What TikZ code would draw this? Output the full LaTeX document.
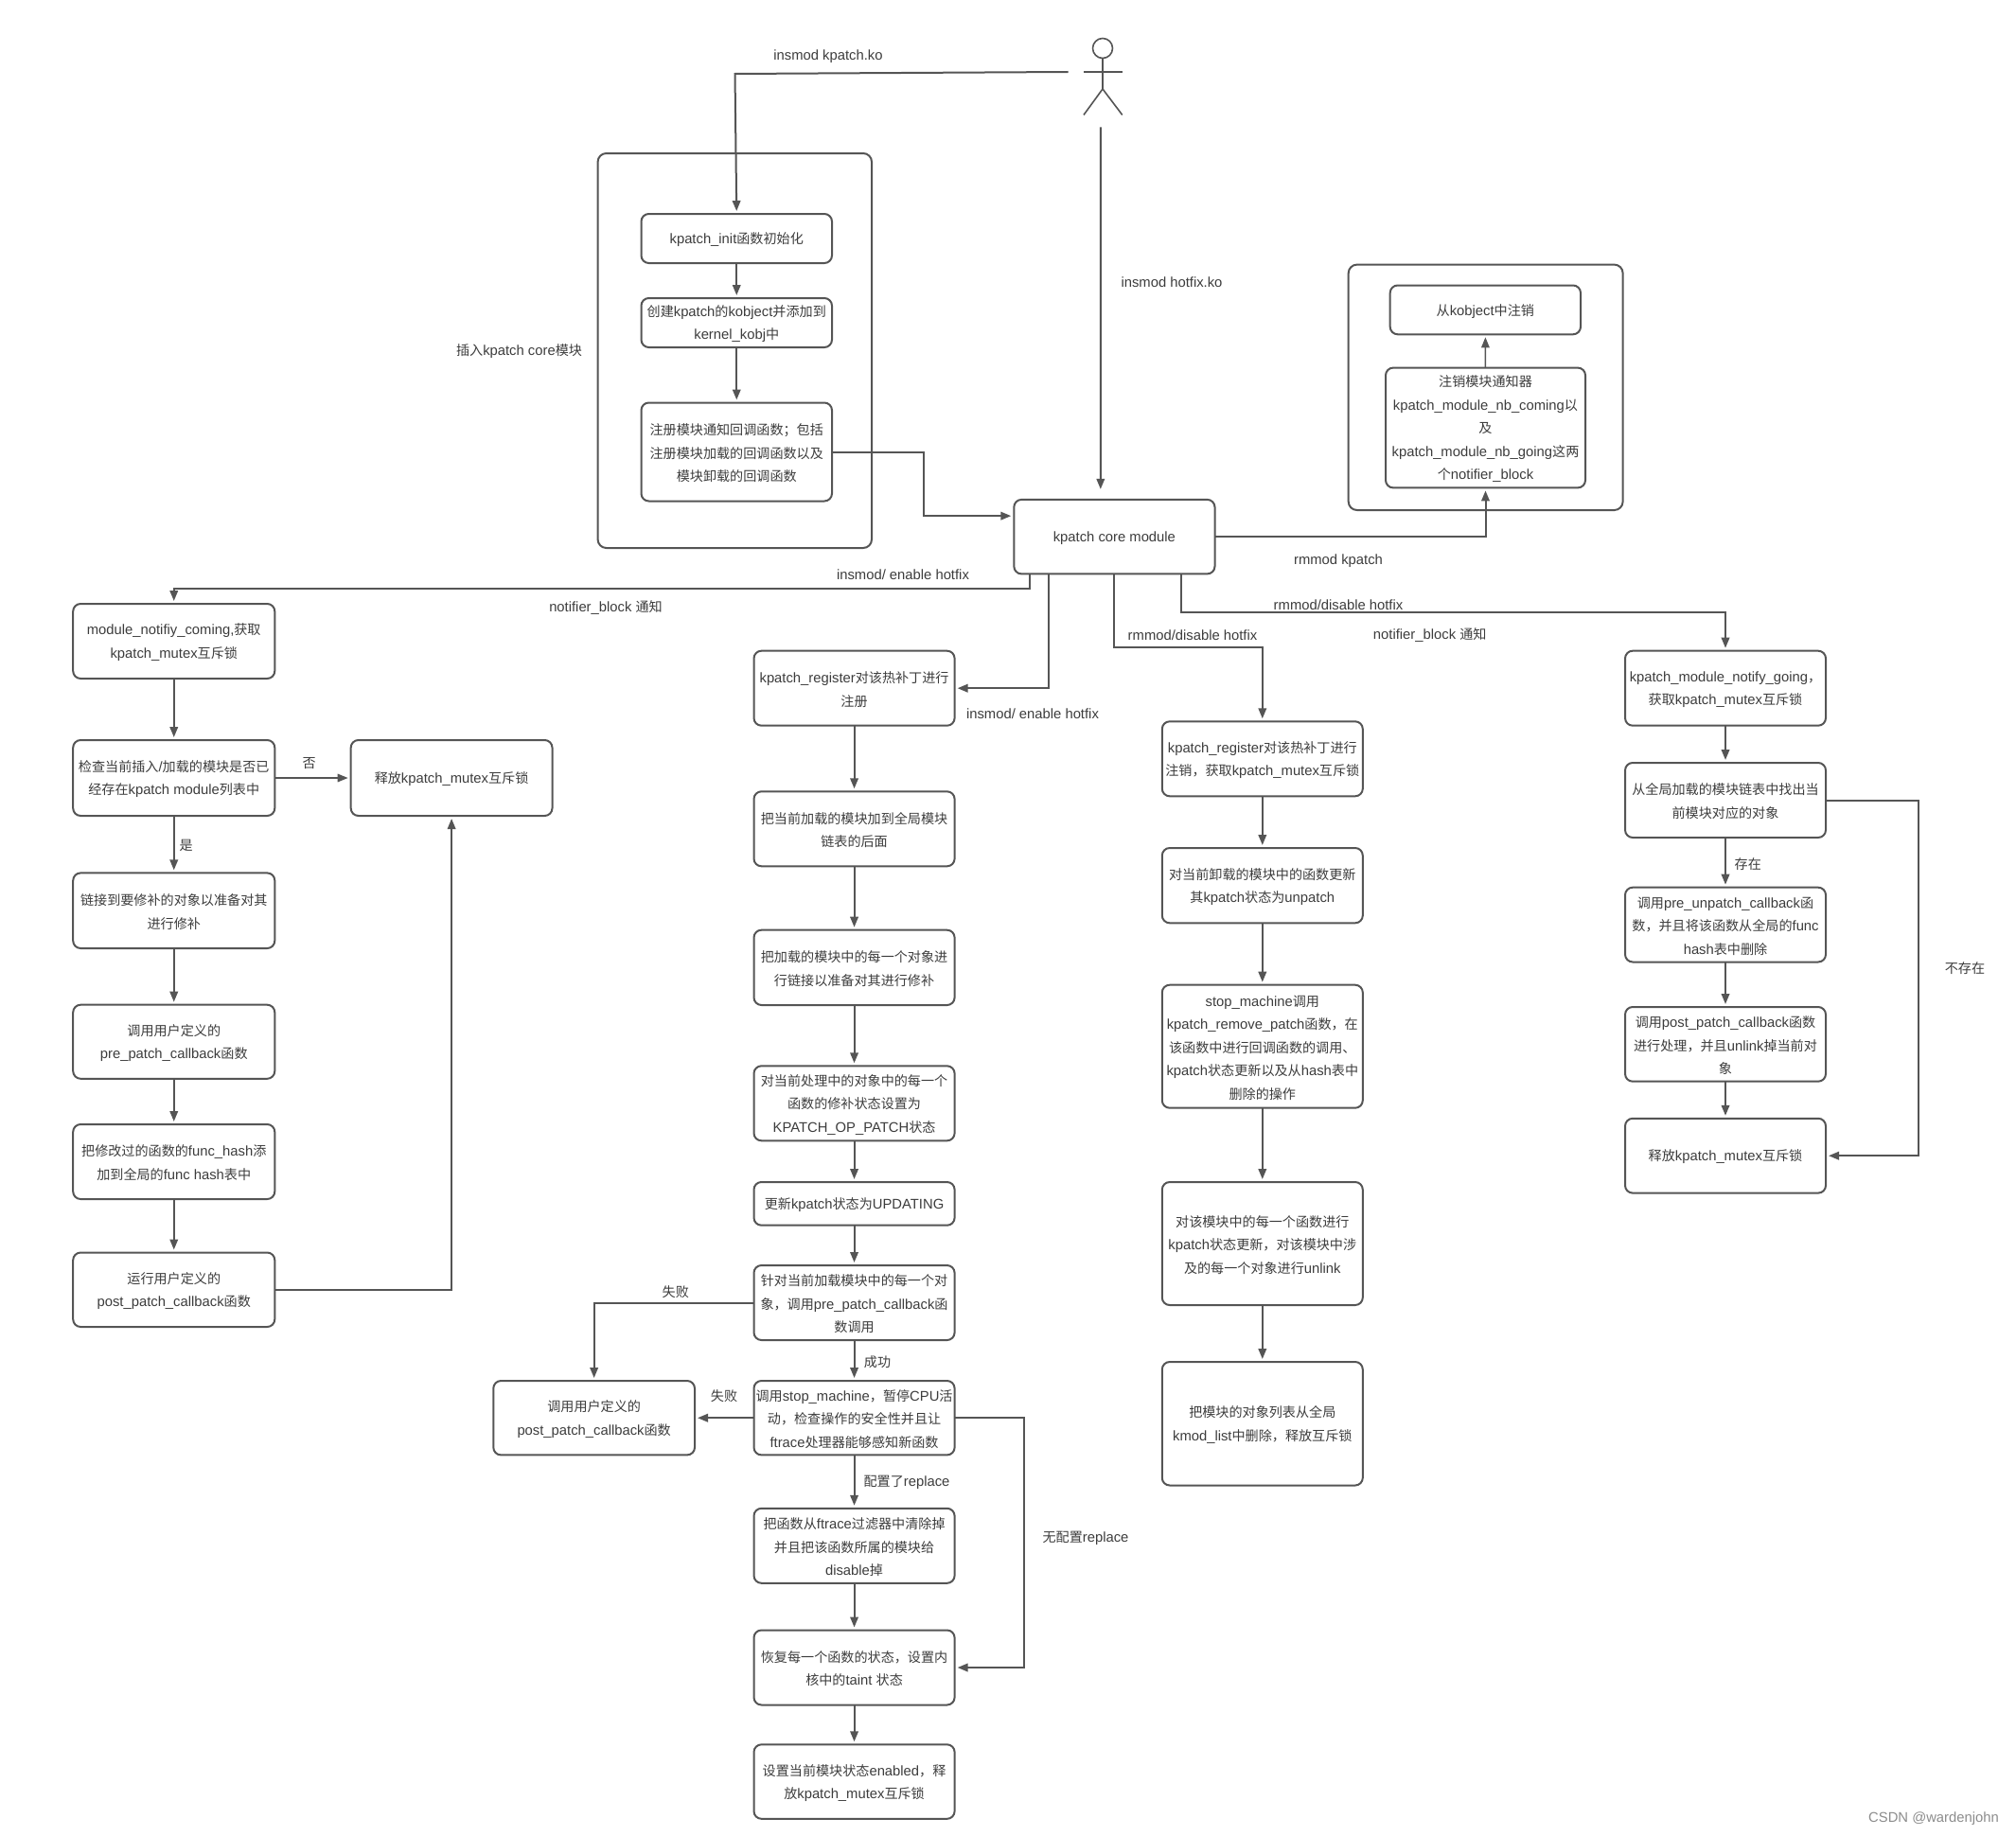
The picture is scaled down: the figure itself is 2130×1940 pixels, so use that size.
\documentclass[tikz,border=0pt]{standalone}
\usetikzlibrary{arrows.meta}
\font\latf="Liberation Sans" at 14.8pt
\font\cjkf="Noto Sans CJK SC" at 14.1pt
\font\wmf="Liberation Sans" at 15pt
\count255="4E00
\loop\ifnum\count255<"A000 \XeTeXcharclass\count255=1 \advance\count255 by 1 \repeat
\XeTeXcharclass"3001=1 \XeTeXcharclass"3002=1 \XeTeXcharclass"FF0C=1 \XeTeXcharclass"FF1B=1
\XeTeXinterchartokenstate=1
\XeTeXinterchartoks 0 1 = {\cjkf}
\XeTeXinterchartoks 1 0 = {\latf}
\XeTeXinterchartoks 4095 1 = {\cjkf}
\XeTeXinterchartoks 4095 0 = {\latf}
\catcode`\_=12
\definecolor{lc}{HTML}{555555}
\definecolor{tc}{HTML}{3C3C3C}
\def\tf{\latf\baselineskip=24.5pt\lineskiplimit=-10pt\relax}
\newcommand{\stk}[1]{\raisebox{-1.3pt}[\height][\depth]{\vbox{\let\\\cr\halign{\hfil##\hfil\crcr#1\crcr}}}}
\tikzset{
  box/.style={draw=lc,line width=2pt,rounded corners=8pt,inner sep=0pt,outer sep=0pt,text=tc,font=\tf},
  frame/.style={box,rounded corners=9pt},
  lbl/.style={inner sep=0pt,align=center,text=tc,font=\tf,yshift=-1.5pt},
  arr/.style={draw=lc,line width=2pt,-{Triangle[length=11pt,width=8.5pt]},shorten >=3pt},
  lin/.style={draw=lc,line width=1.6pt},
}
\newcommand{\bx}[7][box]{\node[#1,minimum width={(#5-#3)*1pt},minimum height={(#6-#4)*1pt}] (#2) at ({(#3+#5)/2},{(#4+#6)/2}) {\stk{#7}};}
\begin{document}
\begin{tikzpicture}[x=1pt,y=-1pt]
\useasboundingbox (0,0) rectangle (2130,1940);
% containers
\bx[frame]{cl}{631.6}{162}{921}{579}{}
\bx[frame]{cr}{1424.7}{279.6}{1714.6}{539}{}
% top-left group
\bx{init}{677.5}{226}{879}{278}{kpatch_init函数初始化}
\bx{kobj}{677.5}{315}{879}{367}{创建kpatch的kobject并添加到\\kernel_kobj中}
\bx{reg}{677.5}{425.5}{879}{529.5}{注册模块通知回调函数；包括\\注册模块加载的回调函数以及\\模块卸载的回调函数}
% core
\bx{core}{1071.3}{527.9}{1283.5}{606.4}{kpatch core module}
% top-right group
\bx{unk}{1468.7}{301.5}{1670}{353.3}{从kobject中注销}
\bx{unn}{1464}{388.6}{1675}{515.4}{注销模块通知器\\kpatch_module_nb_coming以\\及\\kpatch_module_nb_going这两\\个notifier_block}
% left column
\bx{la}{77.2}{638}{290.3}{717}{module_notifiy_coming,获取\\kpatch_mutex互斥锁}
\bx{lb}{77.2}{782}{290.3}{862}{检查当前插入/加载的模块是否已\\经存在kpatch module列表中}
\bx{lr}{370.7}{782}{583.5}{862}{释放kpatch_mutex互斥锁}
\bx{lc1}{77.2}{922.4}{290.3}{1002}{链接到要修补的对象以准备对其\\进行修补}
\bx{ld}{77.2}{1061.7}{290.3}{1139.8}{调用用户定义的\\pre_patch_callback函数}
\bx{le}{77.2}{1188}{290.3}{1267}{把修改过的函数的func_hash添\\加到全局的func hash表中}
\bx{lf}{77.2}{1323.5}{290.3}{1402}{运行用户定义的\\post_patch_callback函数}
% middle column
\bx{ma}{796.5}{687.7}{1008.6}{766.7}{kpatch_register对该热补丁进行\\注册}
\bx{mb}{796.5}{836.3}{1008.6}{915.3}{把当前加载的模块加到全局模块\\链表的后面}
\bx{mc}{796.5}{982.7}{1008.6}{1062}{把加载的模块中的每一个对象进\\行链接以准备对其进行修补}
\bx{md}{796.5}{1126.3}{1008.6}{1205.3}{对当前处理中的对象中的每一个\\函数的修补状态设置为\\KPATCH_OP_PATCH状态}
\bx{me}{796.5}{1249}{1008.6}{1294.7}{更新kpatch状态为UPDATING}
\bx{mf}{796.5}{1337}{1008.6}{1416}{针对当前加载模块中的每一个对\\象，调用pre_patch_callback函\\数调用}
\bx{mg}{796.5}{1459}{1008.6}{1537.4}{调用stop_machine，暂停CPU活\\动，检查操作的安全性并且让\\ftrace处理器能够感知新函数}
\bx{mh}{796.5}{1593.8}{1008.6}{1672.8}{把函数从ftrace过滤器中清除掉\\并且把该函数所属的模块给\\disable掉}
\bx{mi}{796.5}{1722.5}{1008.6}{1801.5}{恢复每一个函数的状态，设置内\\核中的taint 状态}
\bx{mj}{796.5}{1843.3}{1008.6}{1921.8}{设置当前模块状态enabled，释\\放kpatch_mutex互斥锁}
\bx{post}{521.3}{1459}{734}{1537.4}{调用用户定义的\\post_patch_callback函数}
% third column
\bx{ca}{1227.8}{762.3}{1439.8}{841.3}{kpatch_register对该热补丁进行\\注销，获取kpatch_mutex互斥锁}
\bx{cb}{1227.8}{896}{1439.8}{975.3}{对当前卸载的模块中的函数更新\\其kpatch状态为unpatch}
\bx{cc}{1227.8}{1040.7}{1439.8}{1170.7}{stop_machine调用\\kpatch_remove_patch函数，在\\该函数中进行回调函数的调用、\\kpatch状态更新以及从hash表中\\删除的操作}
\bx{cd}{1227.8}{1249}{1439.8}{1379}{对该模块中的每一个函数进行\\kpatch状态更新，对该模块中涉\\及的每一个对象进行unlink}
\bx{ce}{1227.8}{1439}{1439.8}{1569.5}{把模块的对象列表从全局\\kmod_list中删除，释放互斥锁}
% fourth column
\bx{da}{1717}{687.7}{1929}{766.7}{kpatch_module_notify_going，\\获取kpatch_mutex互斥锁}
\bx{db}{1717}{806}{1929}{885}{从全局加载的模块链表中找出当\\前模块对应的对象}
\bx{dc}{1717}{937.7}{1929}{1016.5}{调用pre_unpatch_callback函\\数，并且将该函数从全局的func\\hash表中删除}
\bx{dd}{1717}{1064}{1929}{1142.7}{调用post_patch_callback函数\\进行处理，并且unlink掉当前对\\象}
\bx{de}{1717}{1181.8}{1929}{1260.6}{释放kpatch_mutex互斥锁}
% actor
\node[draw=lc,line width=1.6pt,circle,minimum size=21pt,inner sep=0pt,outer sep=0pt] (head) at (1165,51) {};
\coordinate (hip) at (1165,94);
\coordinate (armL) at (1145,76);
\coordinate (armR) at (1185.7,76);
\coordinate (legL) at (1145,121.4);
\coordinate (legR) at (1185.7,121.4);
\draw[lin] (head.south) -- (hip);
\draw[lin] (armL) -- (armR);
\draw[lin] (legL) -- (hip) -- (legR);
% helper coordinates
\coordinate (actL) at (1128.6,76);
\coordinate (bendA) at (776.5,78);
\coordinate (actB) at (1162.8,134.4);
\coordinate (bendR) at (975.5,500);
\coordinate (ya) at (0,622.4);
\coordinate (yc) at (0,684);
\coordinate (yd) at (0,647);
\coordinate (xm) at (1081.7,0);
\coordinate (xd) at (2026.6,0);
\coordinate (xl) at (627.5,0);
\coordinate (xp) at (477,0);
% connectors
\draw[arr] (actL) -- (bendA) -- (init.north);
\draw[arr,shorten >=11pt] (actB) -- ([xshift=-14.6pt]core.north);
\draw[arr] (init) -- (kobj);
\draw[arr] (kobj) -- (reg);
\draw[arr] (reg.east) -| (bendR) |- ([yshift=22pt]core.west);
\draw[arr] (core.east) -| (unn.south);
\draw[arr,line width=1.6pt] (unn) -- (unk);
\draw[arr] ([xshift=-89.4pt]core.south) |- (la.north |- ya) -- (la.north);
\draw[arr] ([xshift=-69.6pt]core.south) |- (ma.east);
\draw[arr] (core.south) |- (ca.north |- yc) -- (ca.north);
\draw[arr] ([xshift=70.9pt]core.south) |- (da.north |- yd) -- (da.north);
% left
\draw[arr] (la) -- (lb);
\draw[arr,line width=1.6pt] (lb) -- (lr);
\draw[arr] (lb) -- (lc1);
\draw[arr] (lc1) -- (ld);
\draw[arr] (ld) -- (le);
\draw[arr] (le) -- (lf);
\draw[arr] (lf.east) -| (lr.south);
% middle
\draw[arr] (ma) -- (mb);
\draw[arr] (mb) -- (mc);
\draw[arr] (mc) -- (md);
\draw[arr] (md) -- (me);
\draw[arr] (me) -- (mf);
\draw[arr] (mf) -- (mg);
\draw[arr] (mg) -- (mh);
\draw[arr] (mh) -- (mi);
\draw[arr] (mi) -- (mj);
\draw[arr] (mf.west) -| (post.north);
\draw[arr] (mg.west) -- (post.east);
\draw[arr] (mg.east) -| (mg.east -| xm) |- (mi.east);
% third
\draw[arr] (ca) -- (cb);
\draw[arr] (cb) -- (cc);
\draw[arr] (cc) -- (cd);
\draw[arr] (cd) -- (ce);
% fourth
\draw[arr] (da) -- (db);
\draw[arr] (db) -- (dc);
\draw[arr] (dc) -- (dd);
\draw[arr] (dd) -- (de);
\draw[arr] (db.east) -| (db.east -| xd) |- (de.east);
% labels
\node[lbl] (t1) at (875,58) {insmod kpatch.ko};
\node[lbl] (t2) at (548.5,370) {插入kpatch core模块};
\node[lbl] (t3) at (954,606) {insmod/ enable hotfix};
\node[lbl] (t4) at (1238,297) {insmod hotfix.ko};
\node[lbl] (t5) at (1414,591) {rmmod kpatch};
\node[lbl] (t6) at (1414,638) {rmmod/disable hotfix};
\node[lbl] (t7) at (1260,670) {rmmod/disable hotfix};
\node[lbl] (t8) at (1510.7,670) {notifier_block 通知};
\node[lbl] (t9) at (640,641) {notifier_block 通知};
\node[lbl] (t10) at (1091,752.5) {insmod/ enable hotfix};
\node[lbl] (t11) at (326.7,805) {否};
\node[lbl] (t12) at (196.6,892) {是};
\node[lbl] (t13) at (713.8,1363.7) {失败};
\node[lbl] (t14) at (927,1438) {成功};
\node[lbl] (t15) at (765,1473.5) {失败};
\node[lbl] (t16) at (958,1565) {配置了replace};
\node[lbl] (t17) at (1147,1623.7) {无配置replace};
\node[lbl] (t18) at (1846.8,911.3) {存在};
\node[lbl] (t19) at (2076,1022) {不存在};
\node[inner sep=0pt,text=black!45,font=\wmf] (wm) at (2043,1922) {CSDN @wardenjohn};
\end{tikzpicture}
\end{document}
